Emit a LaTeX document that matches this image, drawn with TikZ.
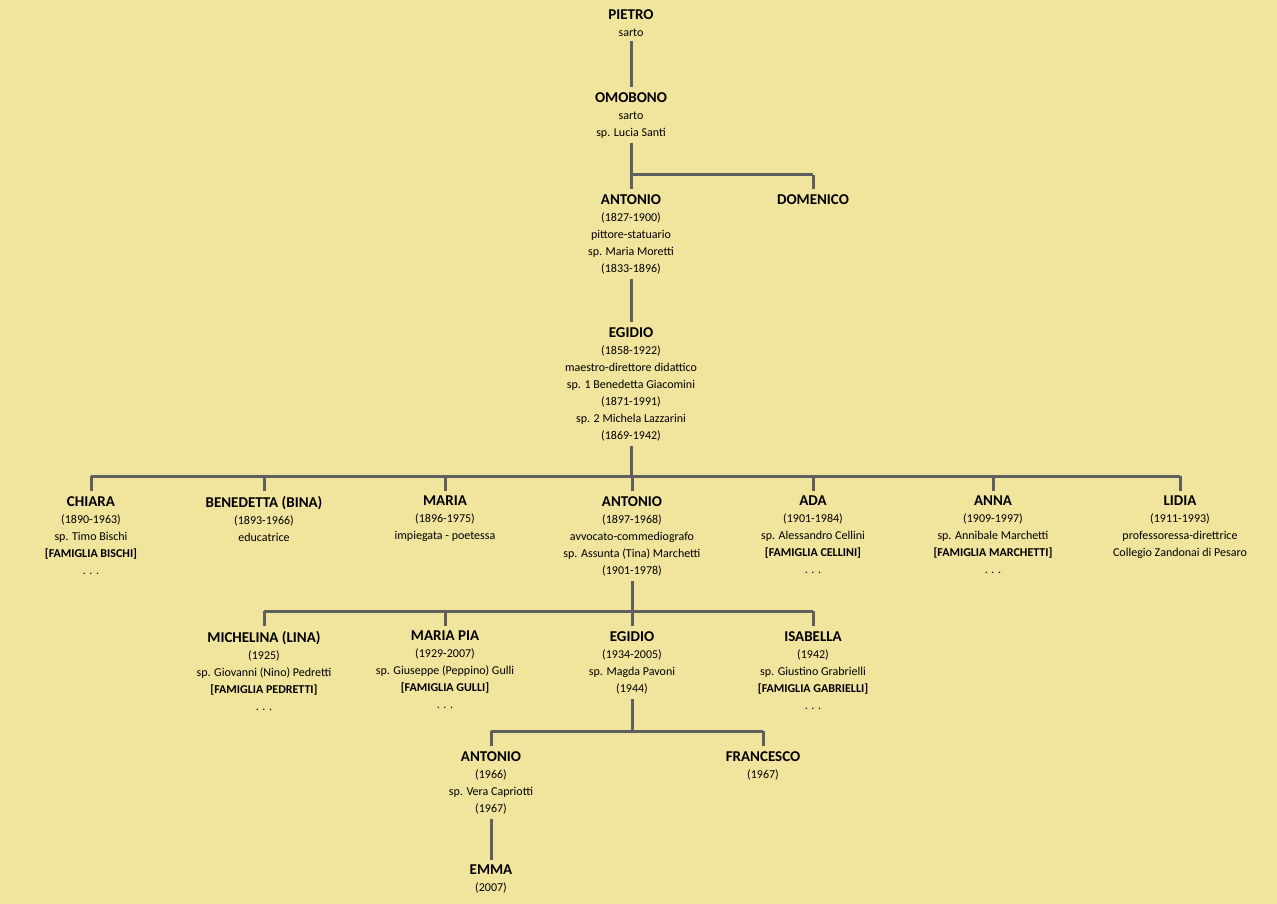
\documentclass[tikz,border=0pt]{standalone}
\usepackage{fontspec}
\setmainfont{Carlito}
\definecolor{bg}{RGB}{241,228,157}
\definecolor{ln}{RGB}{95,95,95}
\begin{document}
\begin{tikzpicture}[x=1pt,y=-1pt,
  p/.style={anchor=north,align=center,inner xsep=2pt,inner ysep=5pt,font=\fontsize{12}{17}\selectfont},
  c/.style={draw=ln,line width=3pt}]
\fill[bg] (0,0) rectangle (1277,904);
\useasboundingbox (0,0) rectangle (1277,904);
\newcommand{\nm}[1]{{\fontsize{15}{17}\selectfont\bfseries #1}}
\node[p] (pi) at (631,4) {\nm{PIETRO}\\sarto};
\node[p] (om) at (631,87) {\nm{OMOBONO}\\sarto\\sp. Lucia Santi};
\node[p] (a1) at (631,189) {\nm{ANTONIO}\\(1827-1900)\\pittore-statuario\\sp. Maria Moretti\\(1833-1896)};
\node[p] (do) at (813,189) {\nm{DOMENICO}};
\node[p] (e1) at (631,322) {\nm{EGIDIO}\\(1858-1922)\\maestro-direttore didattico\\sp. 1 Benedetta Giacomini\\(1871-1991)\\sp. 2 Michela Lazzarini\\(1869-1942)};
\node[p] (ch) at (91,491) {\nm{CHIARA}\\(1890-1963)\\sp. Timo Bischi\\\textbf{[FAMIGLIA BISCHI]}\\. . .};
\node[p] (be) at (264,491) {\nm{BENEDETTA (BINA)}\\(1893-1966)\\educatrice};
\node[p] (ma) at (445,491) {\nm{MARIA}\\(1896-1975)\\impiegata - poetessa};
\node[p] (a2) at (632,491) {\nm{ANTONIO}\\(1897-1968)\\avvocato-commediografo\\sp. Assunta (Tina) Marchetti\\(1901-1978)};
\node[p] (ad) at (813,491) {\nm{ADA}\\(1901-1984)\\sp. Alessandro Cellini\\\textbf{[FAMIGLIA CELLINI]}\\. . .};
\node[p] (an) at (993,491) {\nm{ANNA}\\(1909-1997)\\sp. Annibale Marchetti\\\textbf{[FAMIGLIA MARCHETTI]}\\. . .};
\node[p] (li) at (1180,491) {\nm{LIDIA}\\(1911-1993)\\professoressa-direttrice\\Collegio Zandonai di Pesaro};
\node[p] (mi) at (264,626) {\nm{MICHELINA (LINA)}\\(1925)\\sp. Giovanni (Nino) Pedretti\\\textbf{[FAMIGLIA PEDRETTI]}\\. . .};
\node[p] (mp) at (445,626) {\nm{MARIA PIA}\\(1929-2007)\\sp. Giuseppe (Peppino) Gulli\\\textbf{[FAMIGLIA GULLI]}\\. . .};
\node[p] (e2) at (632,626) {\nm{EGIDIO}\\(1934-2005)\\sp. Magda Pavoni\\(1944)};
\node[p] (is) at (813,626) {\nm{ISABELLA}\\(1942)\\sp. Giustino Grabrielli\\\textbf{[FAMIGLIA GABRIELLI]}\\. . .};
\node[p] (a3) at (491,746) {\nm{ANTONIO}\\(1966)\\sp. Vera Capriotti\\(1967)};
\node[p] (fr) at (763,746) {\nm{FRANCESCO}\\(1967)};
\node[p] (em) at (491,860) {\nm{EMMA}\\(2007)};
\coordinate (b1) at (0,175);
\coordinate (b2) at (0,476);
\coordinate (b3) at (0,611);
\coordinate (b4) at (0,731);
\draw[c] (pi) -- (om);
\draw[c] (a1) -- (e1);
\draw[c] (a3) -- (em);
\draw[c] (om.south) -- (om.south|-b1);
\draw[c] (a1.north|-b1) -- (do.north|-b1);
\foreach \n in {a1,do} \draw[c] (\n.north) -- (\n.north|-b1);
\draw[c] (e1.south) -- (e1.south|-b2);
\draw[c] (ch.north|-b2) -- (li.north|-b2);
\foreach \n in {ch,be,ma,a2,ad,an,li} \draw[c] (\n.north) -- (\n.north|-b2);
\draw[c] (a2.south) -- (a2.south|-b3);
\draw[c] (mi.north|-b3) -- (is.north|-b3);
\foreach \n in {mi,mp,e2,is} \draw[c] (\n.north) -- (\n.north|-b3);
\draw[c] (e2.south) -- (e2.south|-b4);
\draw[c] (a3.north|-b4) -- (fr.north|-b4);
\foreach \n in {a3,fr} \draw[c] (\n.north) -- (\n.north|-b4);
\end{tikzpicture}
\end{document}
